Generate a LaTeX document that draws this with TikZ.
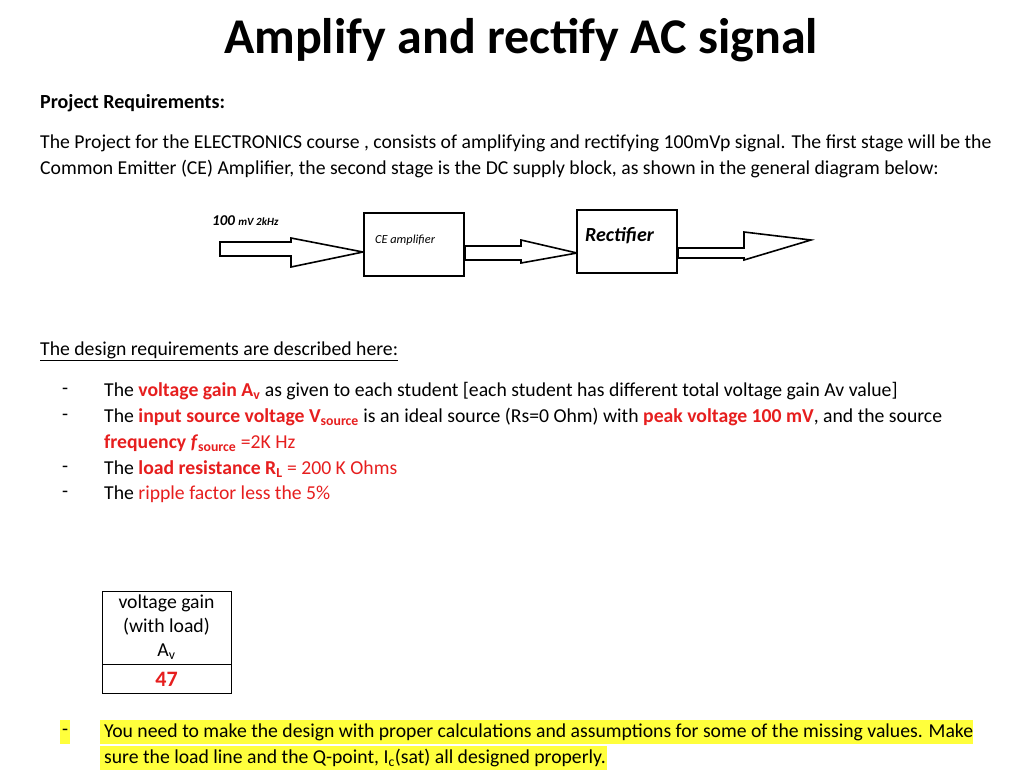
\documentclass[tikz,border=0pt]{standalone}
\usepackage{fontspec}
\setmainfont{Carlito}
\usepackage{xcolor}
\definecolor{rq}{RGB}{230,30,30}
\definecolor{hl}{RGB}{255,255,60}
\begin{document}
\begin{tikzpicture}[x=1pt,y=-1pt,
  txt/.style={anchor=west,inner sep=0pt,font=\fontsize{19.7}{22}\selectfont},
  blk/.style={draw,line width=2pt,fill=white},
  barrow/.style={draw,line width=1.6pt,line join=miter}]
\useasboundingbox (0,0) rectangle (1024,777);
\node[inner sep=0pt,font=\bfseries\fontsize{50}{56}\selectfont] (title) at (521,40) {Amplify and rectify AC signal};
\node[txt,font=\bfseries\fontsize{20}{22}\selectfont] (pr) at (40,103) {Project Requirements:};
\node[txt] (p1) at (40,143) {The Project for the ELECTRONICS course , consists of amplifying and rectifying 100mVp signal. The first stage will be the};
\node[txt] (p2) at (40,169) {Common Emitter (CE) Amplifier, the second stage is the DC supply block, as shown in the general diagram below:};
% diagram
\node[inner sep=0pt,anchor=west,font=\bfseries\itshape\fontsize{15}{16}\selectfont] (lab) at (212,221) {100 {\fontsize{11}{12}\selectfont mV 2kHz}};
\draw[barrow] (220,242) -- (291,242) -- (291,238) -- (363,252) -- (291,267) -- (291,256) -- (220,256) -- cycle;
\node[blk,minimum width=100pt,minimum height=63pt,anchor=north west] (ce) at (363,212) {};
\node[anchor=west,font=\itshape\fontsize{12.3}{13}\selectfont,inner sep=0pt] (cet) at (375,240) {CE amplifier};
\draw[barrow] (465,246) -- (521,246) -- (521,240) -- (577,253) -- (521,263) -- (521,260) -- (465,260) -- cycle;
\node[blk,minimum width=100pt,minimum height=63pt,anchor=north west] (rc) at (576,209) {};
\node[anchor=west,font=\bfseries\itshape\fontsize{20}{21}\selectfont,inner sep=0pt] (rct) at (585,236) {Rectifier};
\draw[barrow] (678,248) -- (744,248) -- (744,232) -- (811,240) -- (744,260) -- (744,258) -- (678,258) -- cycle;
% design reqs
\node[txt] (dr) at (40,351) {\underline{The design requirements are described here:}};
\foreach \y in {391,417,469,494} \node[txt] at (62,\y) {-};
\node[txt] (b1) at (104,391) {The \textcolor{rq}{\textbf{voltage gain A\textsubscript{v}}} as given to each student [each student has different total voltage gain Av value]};
\node[txt] (b2) at (104,417) {The \textcolor{rq}{\textbf{input source voltage V\textsubscript{source}}} is an ideal source (Rs=0 Ohm) with \textcolor{rq}{\textbf{peak voltage 100 mV}}, and the source};
\node[txt] (b2b) at (104,443) {\textcolor{rq}{\textbf{frequency \textit{f}\textsubscript{source}} =2K Hz}};
\node[txt] (b3) at (104,469) {The \textcolor{rq}{\textbf{load resistance R\textsubscript{L}} = 200 K Ohms}};
\node[txt] (b4) at (104,494) {The \textcolor{rq}{ripple factor less the 5\%}};
% table
\draw[line width=0.8pt] (102,591) rectangle (231,693);
\draw[line width=0.8pt] (102,664) -- (231,664);
\node[inner sep=0pt,align=center,font=\fontsize{19.7}{24}\selectfont] (tv) at (166.5,627) {voltage gain\\(with load)\\A\textsubscript{v}};
\node[inner sep=0pt,font=\bfseries\fontsize{22}{24}\selectfont,text=rq] (tn) at (166.5,679) {47};
% highlighted bullet
\fill[hl] (60,720) rectangle (70,744);
\fill[hl] (100,720) rectangle (973,744);
\fill[hl] (100,746) rectangle (607,770);
\node[txt] at (62,732) {-};
\node[txt] (b5) at (104,732) {You need to make the design with proper calculations and assumptions for some of the missing values. Make};
\node[txt] (b5b) at (104,758) {sure the load line and the Q-point, I\textsubscript{c}(sat) all designed properly.};
\end{tikzpicture}
\end{document}
